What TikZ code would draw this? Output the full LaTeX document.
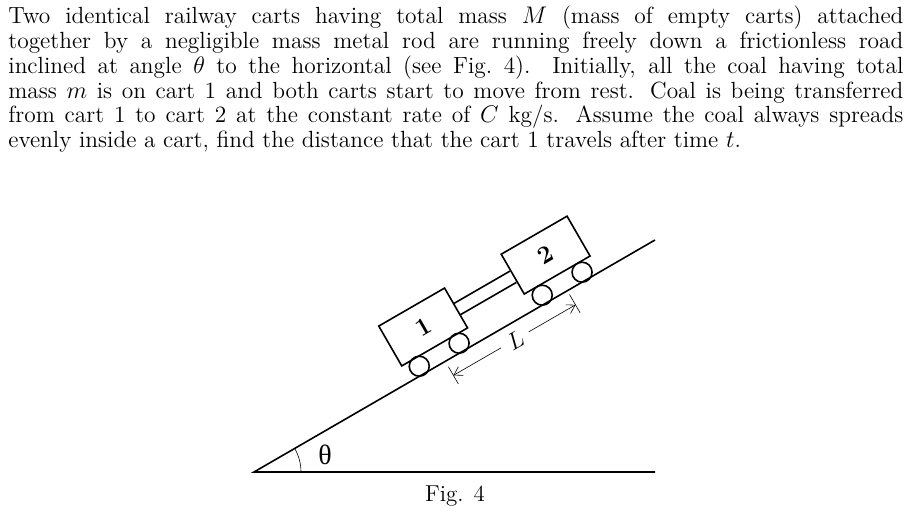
\documentclass[tikz,border=0pt]{standalone}
\usepackage{fontspec}
\usetikzlibrary{arrows.meta}
\newfontfamily\thfont{Liberation Serif}
\begin{document}
\begin{tikzpicture}[x=0.5pt,y=0.5pt,
  heavy/.style={line width=0.8pt},
  wheel/.style={circle,draw,line width=0.8pt,minimum size=10pt,inner sep=0pt},
  cart/.style={draw,line width=0.8pt,minimum width=38pt,minimum height=23pt,inner sep=0pt,rotate=30,font=\fontsize{12.5}{12.5}\selectfont\bfseries},
  hair/.style={line width=0.3pt}]
\useasboundingbox (0,0) rectangle (911,-517);
\node[anchor=north west,inner sep=0pt,text width=447.5pt,align=justify,font=\fontsize{11.7}{12.35}\selectfont] (txt) at (8,-6) {Two identical railway carts having total mass $M$ (mass of empty carts) attached\linebreak together by a negligible mass metal rod are running freely down a frictionless road\linebreak inclined at angle $\theta$ to the horizontal (see Fig.~4). Initially, all the coal having total\linebreak mass $m$ is on cart 1 and both carts start to move from rest. Coal is being transferred\linebreak from cart 1 to cart 2 at the constant rate of $C$ kg/s. Assume the coal always spreads\linebreak evenly inside a cart, find the distance that the cart 1 travels after time $t$.};
\coordinate (O) at (254,-472);
\coordinate (H) at (655,-472);
\coordinate (T) at (655,-240);
\draw[heavy] (H) -- (O) -- (T);
\draw[hair] ([shift={(0:47)}]O) arc (0:30:47);
\node[font=\thfont\fontsize{14}{14}\selectfont] (th) at (325,-455) {θ};
\node[font=\fontsize{11.5}{11.5}\selectfont] (fig) at (455,-496) {Fig. 4};
\begin{scope}[shift={(O)},rotate=30]
  \node[wheel] (w1) at (196,9) {};
  \node[wheel] (w2) at (242,9) {};
  \node[wheel] (w3) at (338,9) {};
  \node[wheel] (w4) at (384,9) {};
  \node[cart] (c1) at (219,41) {1};
  \node[cart] (c2) at (361,42) {2};
  \coordinate (r1a) at (257,33); \coordinate (r1b) at (322,33);
  \coordinate (r2a) at (257,46); \coordinate (r2b) at (322,46);
  \draw[heavy] (r1a) -- (r1b) (r2a) -- (r2b);
  \coordinate (t1a) at (221,-6); \coordinate (t1b) at (221,-26);
  \coordinate (t2a) at (362,-4); \coordinate (t2b) at (362,-25);
  \draw[hair] (t1a) -- (t1b) (t2a) -- (t2b);
  \coordinate (la) at (221,-16); \coordinate (lb) at (362,-16);
  \coordinate (lw) at (276,-16); \coordinate (le) at (308,-16);
  \node[font=\fontsize{12}{12}\selectfont,rotate=30] (L) at (292,-17) {$L$};
  \draw[hair,-{Straight Barb[length=4pt,width=5pt]}] (lw) -- (la);
  \draw[hair,-{Straight Barb[length=4pt,width=5pt]}] (le) -- (lb);
\end{scope}
\end{tikzpicture}
\end{document}
